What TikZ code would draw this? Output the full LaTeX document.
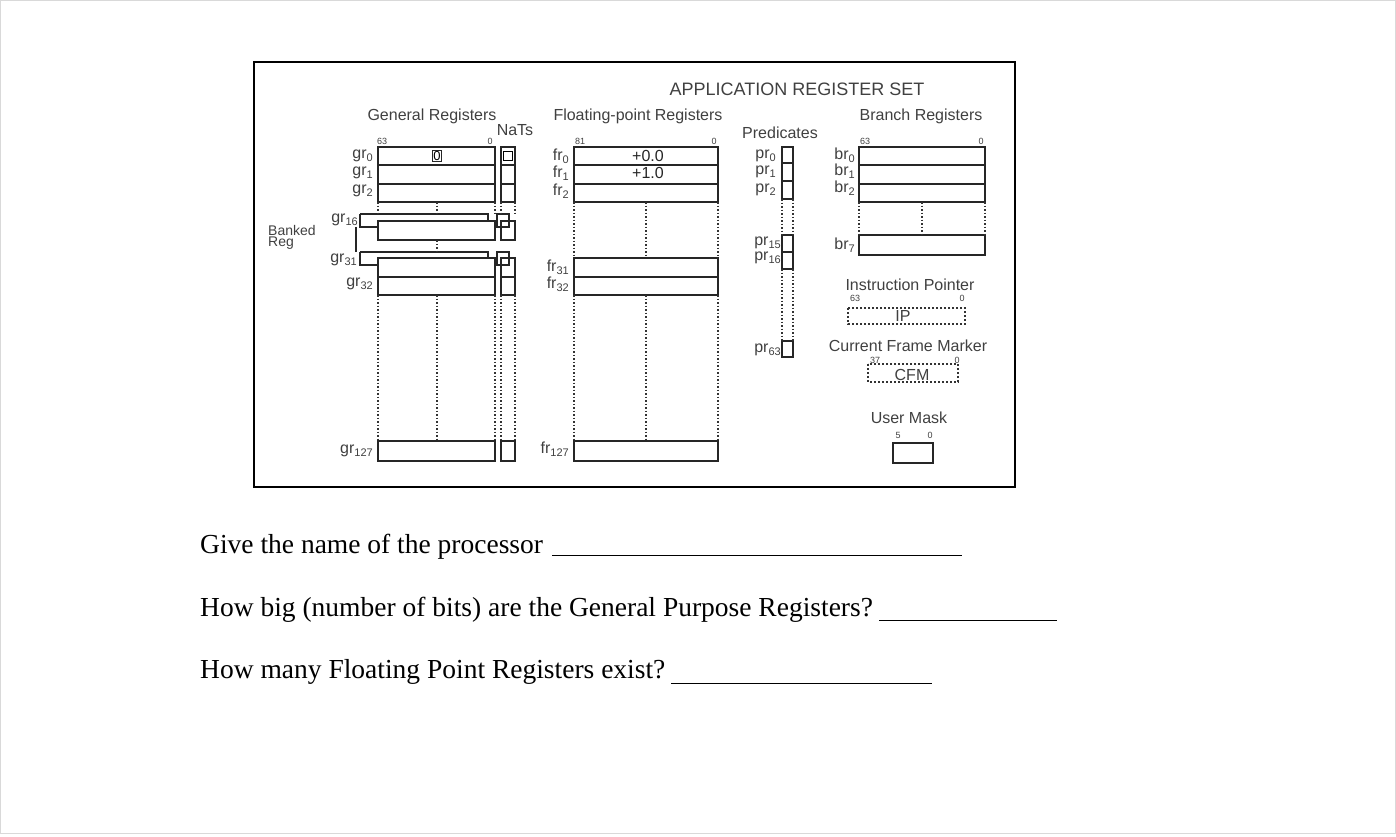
\documentclass[tikz,border=0pt]{standalone}
\usepackage{fontspec}
\setmainfont{Liberation Serif}
\newfontfamily\dsans{Liberation Sans}
\newcommand\rsub[1]{\raisebox{-0.35ex}{\fontsize{11}{11}\selectfont #1}}
\begin{document}
\begin{tikzpicture}[x=1pt,y=-1pt,
  reg/.style={draw=black!85,line width=1.2pt},
  dots/.style={draw=black!80,line width=1.2pt,dash pattern=on 1.5pt off 2pt},
  dbox/.style={draw=black!80,line width=1.2pt,dash pattern=on 2pt off 2pt},
  lab/.style={font=\dsans\fontsize{16}{17}\selectfont,text=black!75,inner sep=0pt},
  rl/.style={lab,anchor=east},
  sm/.style={font=\dsans\fontsize{9}{10}\selectfont,text=black!75,inner sep=0pt},
  q/.style={font=\fontsize{27.5}{30}\selectfont,anchor=base west,inner sep=0pt}]
\useasboundingbox (0,0) rectangle (1396,837);
\draw[black!15] (0.5,0.5) rectangle (1395.5,833);
\draw[line width=1.5pt] (254,62) rectangle (1015,487);
% titles
\node[lab,font=\dsans\fontsize{18}{19}\selectfont] (title) at (797,89) {APPLICATION REGISTER SET};
\node[lab] (tgr) at (432,116) {General Registers};
\node[lab] (tfr) at (638,116) {Floating-point Registers};
\node[lab] (tbr) at (921,116) {Branch Registers};
\node[lab] (tnat) at (515,130) {NaTs};
\node[lab] (tpr) at (780,133) {Predicates};
% general registers
\node[sm] at (382,141) {63}; \node[sm] at (490,141) {0};
\foreach \a/\b in {147/165,165/184,184/202,221/240,258/277,277/295,441/461}
  {\draw[reg] (378,\a) rectangle (495,\b); \draw[reg] (501,\a) rectangle (515,\b);}
\draw[reg] (360,214) -- (360,227) -- (378,227); \draw[reg] (360,214) -- (488,214) -- (488,221);
\draw[reg] (360,252) -- (360,265) -- (378,265); \draw[reg] (360,252) -- (488,252) -- (488,258);
\draw[reg] (497,214) rectangle (509,227); \draw[reg] (497,252) rectangle (509,265);
\node[draw,reg,inner sep=1pt,font=\dsans\fontsize{13}{13}\selectfont] (z) at (437,156) {0};
\node[draw,inner sep=1pt,minimum size=9pt,line width=0.8pt] (nz) at (508,156) {};
\foreach \x in {378,437,495,501,515} {\draw[dots] (\x,202) -- (\x,214); \draw[dots] (\x,295) -- (\x,441);}
\draw[dots] (437,240) -- (437,252);
\node[rl] at (373,156) {gr\rsub{0}}; \node[rl] at (373,173) {gr\rsub{1}}; \node[rl] at (373,191) {gr\rsub{2}};
\node[rl] at (358,220) {gr\rsub{16}}; \node[rl] at (357,260) {gr\rsub{31}}; \node[rl] at (373,284) {gr\rsub{32}};
\node[rl] at (373,451) {gr\rsub{127}};
\draw[reg] (356,227) -- (356,252);
\node[lab,anchor=west,font=\dsans\fontsize{14}{14}\selectfont] at (268,230) {Banked};
\node[lab,anchor=west,font=\dsans\fontsize{14}{14}\selectfont] at (268,243) {Reg};
% floating-point
\node[sm] at (580,141) {81}; \node[sm] at (714,141) {0};
\foreach \a/\b in {147/165,165/184,184/202,258/277,277/295,441/461} \draw[reg] (574,\a) rectangle (718,\b);
\foreach \x in {574,646,718} {\draw[dots] (\x,202) -- (\x,258); \draw[dots] (\x,295) -- (\x,441);}
\node[lab,text=black!85] at (648,156) {+0.0}; \node[lab,text=black!85] at (648,173) {+1.0};
\node[rl] at (569,156) {fr\rsub{0}}; \node[rl] at (569,173) {fr\rsub{1}}; \node[rl] at (569,191) {fr\rsub{2}};
\node[rl] at (569,267) {fr\rsub{31}}; \node[rl] at (569,284) {fr\rsub{32}}; \node[rl] at (569,449) {fr\rsub{127}};
% predicates
\foreach \a/\b in {147/163,163/181,181/199,235/252,252/269,341/357} \draw[reg] (782,\a) rectangle (793,\b);
\foreach \x in {782,793} {\draw[dots] (\x,199) -- (\x,235); \draw[dots] (\x,269) -- (\x,341);}
\node[rl] at (776,156) {pr\rsub{0}}; \node[rl] at (776,172) {pr\rsub{1}}; \node[rl] at (776,190) {pr\rsub{2}};
\node[rl] at (781,243) {pr\rsub{15}}; \node[rl] at (781,258) {pr\rsub{16}}; \node[rl] at (781,350) {pr\rsub{63}};
% branch
\node[sm] at (865,141) {63}; \node[sm] at (981,141) {0};
\foreach \a/\b in {147/165,165/184,184/202,235/255} \draw[reg] (859,\a) rectangle (985,\b);
\foreach \x in {859,922,985} \draw[dots] (\x,202) -- (\x,235);
\node[rl] at (855,155) {br\rsub{0}}; \node[rl] at (855,171) {br\rsub{1}}; \node[rl] at (855,188) {br\rsub{2}}; \node[rl] at (855,245) {br\rsub{7}};
% IP, CFM, UM
\node[lab] at (910,285) {Instruction Pointer};
\node[sm] at (855,298) {63}; \node[sm] at (962,298) {0};
\draw[dbox] (848,308) rectangle (965,324); \node[lab] at (903,316) {IP};
\node[lab] at (908,346) {Current Frame Marker};
\node[sm] at (875,360) {37}; \node[sm] at (957,360) {0};
\draw[dbox] (868,364) rectangle (958,382); \node[lab] at (912,375) {CFM};
\node[lab] at (909,418) {User Mask};
\node[sm] at (898,435) {5}; \node[sm] at (930,435) {0};
\draw[reg] (893,443) rectangle (933,463);
% questions
\node[q] at (200,553) {Give the name of the processor};
\draw[line width=0.8pt] (552,555) -- (962,555);
\node[q] at (200,616) {How big (number of bits) are the General Purpose Registers?};
\draw[line width=0.8pt] (879,620) -- (1057,620);
\node[q] at (200,678) {How many Floating Point Registers exist?};
\draw[line width=0.8pt] (671,683) -- (932,683);
\end{tikzpicture}
\end{document}
